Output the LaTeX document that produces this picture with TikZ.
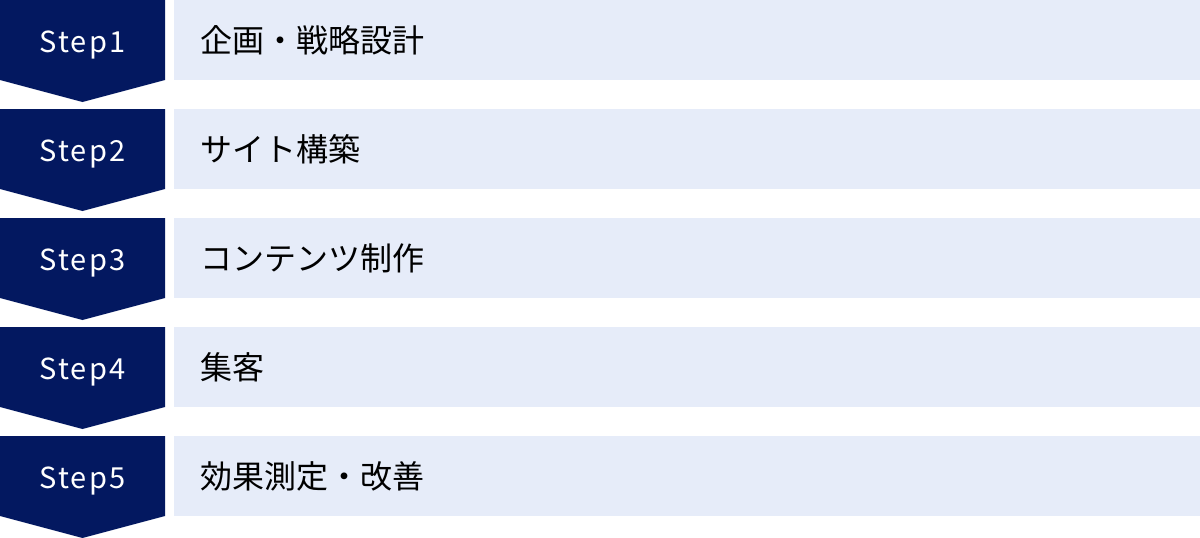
\documentclass[tikz,border=0pt]{standalone}
\usepackage{fontspec}
\setmainfont{Noto Sans CJK JP}
\newfontfamily\stepfont[LetterSpace=7]{Noto Sans CJK JP}
\usepackage{xcolor}
\definecolor{stepnavy}{RGB}{3,24,96}
\definecolor{steplight}{RGB}{230,236,249}

\begin{document}
\begin{tikzpicture}[x=1pt,y=-1pt,
  steplabel/.style={text=white,anchor=base,inner sep=0pt,font=\stepfont\fontsize{29}{34}\selectfont},
  stagetext/.style={anchor=west,inner sep=0pt,font=\fontsize{32}{38}\selectfont}]
\useasboundingbox (0,0) rectangle (1200,538);
% Step1
\fill[stepnavy] (0,0) -- (165,0) -- (165,80) -- (82.5,102) -- (0,80) -- cycle;
\fill[steplight] (174,0) rectangle (1200,80);
\node[steplabel] (s1) at (82.5,52) {Step1};
\node[stagetext] (t1) at (200,40) {企画・戦略設計};
% Step2
\fill[stepnavy] (0,109) -- (165,109) -- (165,189) -- (82.5,211) -- (0,189) -- cycle;
\fill[steplight] (174,109) rectangle (1200,189);
\node[steplabel] (s2) at (82.5,161) {Step2};
\node[stagetext] (t2) at (200,149) {サイト構築};
% Step3
\fill[stepnavy] (0,218) -- (165,218) -- (165,298) -- (82.5,320) -- (0,298) -- cycle;
\fill[steplight] (174,218) rectangle (1200,298);
\node[steplabel] (s3) at (82.5,270) {Step3};
\node[stagetext] (t3) at (200,258) {コンテンツ制作};
% Step4
\fill[stepnavy] (0,327) -- (165,327) -- (165,407) -- (82.5,429) -- (0,407) -- cycle;
\fill[steplight] (174,327) rectangle (1200,407);
\node[steplabel] (s4) at (82.5,379) {Step4};
\node[stagetext] (t4) at (200,367) {集客};
% Step5
\fill[stepnavy] (0,436) -- (165,436) -- (165,516) -- (82.5,538) -- (0,516) -- cycle;
\fill[steplight] (174,436) rectangle (1200,516);
\node[steplabel] (s5) at (82.5,488) {Step5};
\node[stagetext] (t5) at (200,476) {効果測定・改善};
\end{tikzpicture}
\end{document}
